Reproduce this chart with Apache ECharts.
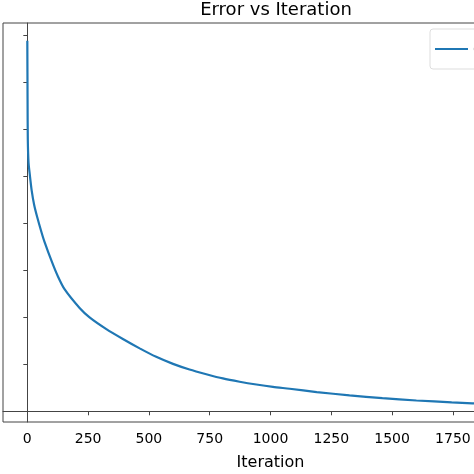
<!DOCTYPE html>
<html lang="en">
<head>
    <meta charset="UTF-8">
    <title>Error vs Iteration</title>
    <script src="https://cdn.jsdelivr.net/npm/echarts@6/dist/echarts.min.js"></script>
    <style>
        html, body {
            margin: 0;
            padding: 0;
            background: #fff;
        }
        #chart {
            width: 474px;
            height: 474px;
        }
    </style>
</head>
<body>
    <div id="chart"></div>
    <script>
        // values (y in tick units, 0 = lowest tick)
        const iterations = [0, 1, 2, 5, 10, 18, 28, 40, 58, 70, 102, 126, 153, 215, 256, 325, 393, 462, 530, 599, 667, 736, 804, 873, 942, 1010, 1079, 1190, 1325, 1460, 1600, 1745, 1830, 1999];
        const errors = [7.89, 6.64, 5.79, 5.30, 5.05, 4.70, 4.40, 4.15, 3.82, 3.62, 3.17, 2.87, 2.60, 2.20, 2.00, 1.75, 1.54, 1.34, 1.16, 1.01, 0.89, 0.79, 0.70, 0.63, 0.57, 0.52, 0.48, 0.41, 0.34, 0.28, 0.23, 0.19, 0.17, 0.14];
        const xTicks = [0, 250, 500, 750, 1000, 1250, 1500, 1750, 2000];
        const yTicks = [0, 1, 2, 3, 4, 5, 6, 7, 8];

        const chart = echarts.init(document.getElementById('chart'));
        const axisColor = '#444';

        chart.setOption({
            animation: false,
            title: {
                text: 'Error vs Iteration',
                left: 271,
                textAlign: 'center',
                top: -4,
                textStyle: {
                    fontFamily: 'DejaVu Sans',
                    fontSize: 18,
                    fontWeight: 'normal',
                    color: '#000'
                }
            },
            legend: {
                left: 430,
                top: 29,
                icon: 'rect',
                itemWidth: 33,
                itemHeight: 2,
                padding: [13, 40, 13, 5],
                backgroundColor: '#fff',
                borderColor: '#ddd',
                borderWidth: 1,
                borderRadius: 3,
                textStyle: { fontFamily: 'DejaVu Sans', fontSize: 14 },
                data: ['error']
            },
            // plot runs past the right edge of the picture (cropped)
            grid: {
                left: 3,
                top: 23,
                width: 535,
                bottom: 52,
                outerBoundsMode: 'none',
                containLabel: false,
                show: true,
                borderColor: axisColor,
                borderWidth: 1
            },
            xAxis: {
                type: 'value',
                min: -100,
                max: 2100,
                name: 'Iteration',
                nameLocation: 'middle',
                nameGap: 33,
                nameTextStyle: {
                    fontFamily: 'DejaVu Sans',
                    fontSize: 16,
                    color: '#000'
                },
                axisLine: { lineStyle: { color: axisColor } },
                axisTick: {
                    customValues: xTicks,
                    length: 4,
                    lineStyle: { color: axisColor }
                },
                axisLabel: {
                    customValues: xTicks,
                    formatter: v => String(v),
                    margin: 10,
                    fontFamily: 'DejaVu Sans',
                    fontSize: 14,
                    color: '#000'
                },
                splitLine: { show: false }
            },
            yAxis: {
                type: 'value',
                min: -0.228,
                max: 8.27,
                axisLine: { show: true, lineStyle: { color: axisColor } },
                axisTick: {
                    show: true,
                    customValues: yTicks,
                    length: 4,
                    lineStyle: { color: axisColor }
                },
                axisLabel: { show: false },
                splitLine: { show: false }
            },
            series: [{
                name: 'error',
                type: 'line',
                data: iterations.map((it, i) => [it, errors[i]]),
                showSymbol: false,
                smooth: 0.25,
                lineStyle: { color: '#1f77b4', width: 2.2 },
                itemStyle: { color: '#1f77b4' }
            }]
        });
    </script>
</body>
</html>
